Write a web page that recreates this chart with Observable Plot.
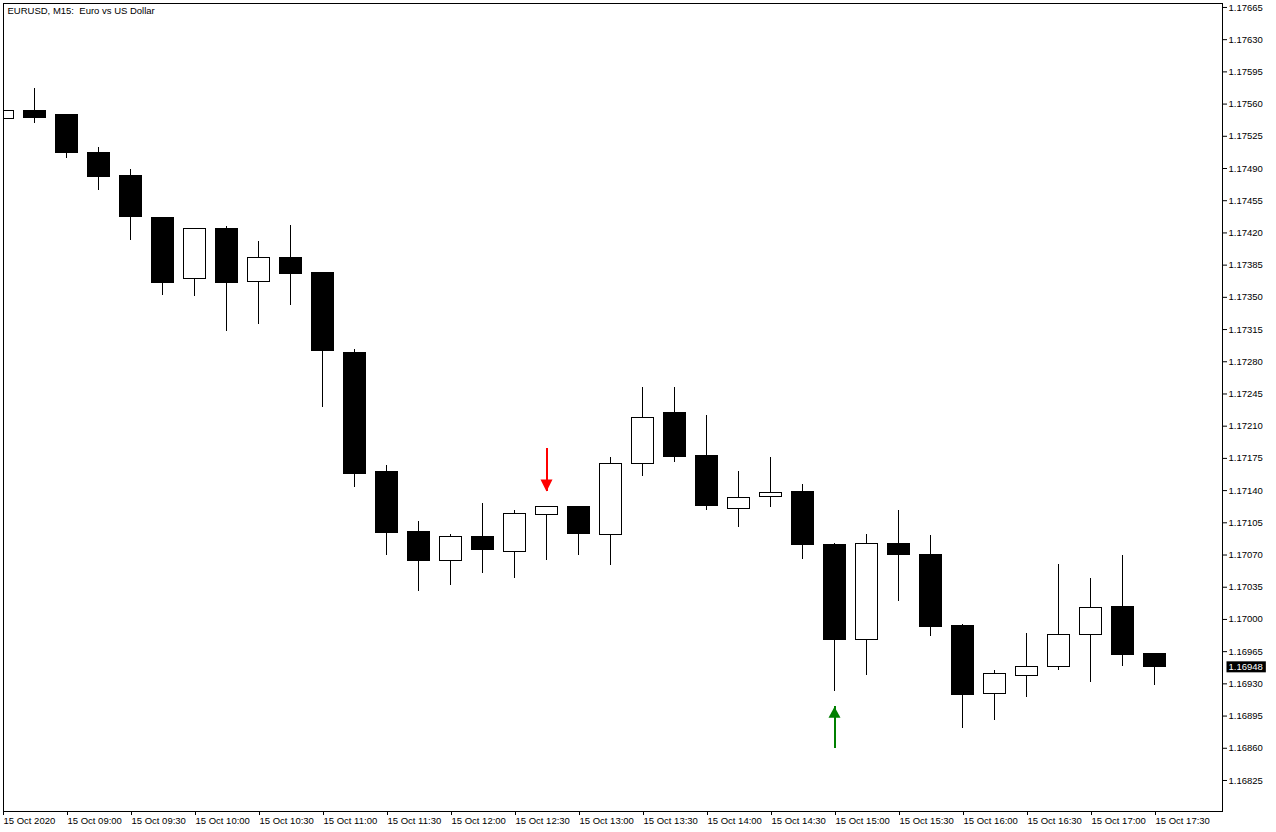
<!DOCTYPE html>
<html>
<head>
<meta charset="utf-8">
<script src="https://cdn.jsdelivr.net/npm/d3@7"></script>
<script src="https://cdn.jsdelivr.net/npm/@observablehq/plot@0.6"></script>
<style>
  html, body { margin: 0; padding: 0; background: #fff; }
  svg { display: block; }
  svg text { white-space: pre; }
</style>
</head>
<body>
<div id="chart"></div>
<script>
// ---- data ----
const title = "EURUSD, M15:  Euro vs US Dollar";
const times = ["08:30","08:45","09:00","09:15","09:30","09:45","10:00","10:15","10:30","10:45",
               "11:00","11:15","11:30","11:45","12:00","12:15","12:30","12:45","13:00","13:15",
               "13:30","13:45","14:00","14:15","14:30","14:45","15:00","15:15","15:30","15:45",
               "16:00","16:15","16:30","16:45","17:00","17:15","17:30"];
const open  = [1.17544,1.17553,1.17548,1.17507,1.17482,1.17436,1.17370,1.17424,1.17367,1.17393,
               1.17376,1.17290,1.17160,1.17095,1.17063,1.17090,1.17073,1.17113,1.17122,1.17092,
               1.17169,1.17224,1.17178,1.17120,1.17133,1.17138,1.17081,1.16978,1.17082,1.17070,
               1.16993,1.16919,1.16939,1.16948,1.16983,1.17014,1.16962];
const high  = [1.17554,1.17577,1.17549,1.17513,1.17489,1.17437,1.17425,1.17427,1.17411,1.17428,
               1.17377,1.17293,1.17167,1.17106,1.17092,1.17126,1.17118,1.17123,1.17123,1.17176,
               1.17252,1.17252,1.17222,1.17161,1.17176,1.17147,1.17083,1.17092,1.17118,1.17091,
               1.16995,1.16945,1.16985,1.17060,1.17044,1.17070,1.16963];
const low   = [1.17543,1.17539,1.17501,1.17466,1.17412,1.17352,1.17351,1.17313,1.17321,1.17341,
               1.17230,1.17143,1.17069,1.17030,1.17037,1.17050,1.17044,1.17064,1.17070,1.17059,
               1.17155,1.17170,1.17118,1.17100,1.17122,1.17065,1.16922,1.16939,1.17019,1.16981,
               1.16882,1.16890,1.16915,1.16945,1.16931,1.16949,1.16928];
const close = [1.17553,1.17545,1.17507,1.17481,1.17437,1.17366,1.17424,1.17366,1.17393,1.17375,
               1.17292,1.17158,1.17094,1.17063,1.17090,1.17075,1.17115,1.17122,1.17093,1.17169,
               1.17219,1.17177,1.17123,1.17132,1.17137,1.17081,1.16978,1.17082,1.17070,1.16992,
               1.16918,1.16941,1.16948,1.16983,1.17012,1.16961,1.16948];

const priceTicks = [1.17665,1.17630,1.17595,1.17560,1.17525,1.17490,1.17455,1.17420,1.17385,
                    1.17350,1.17315,1.17280,1.17245,1.17210,1.17175,1.17140,1.17105,1.17070,
                    1.17035,1.17000,1.16965,1.16930,1.16895,1.16860,1.16825];
const xTickTimes  = ["08:30","09:00","09:30","10:00","10:30","11:00","11:30","12:00","12:30","13:00",
                     "13:30","14:00","14:30","15:00","15:30","16:00","16:30","17:00","17:30"];
const xTickLabels = ["15 Oct 2020","15 Oct 09:00","15 Oct 09:30","15 Oct 10:00","15 Oct 10:30",
                     "15 Oct 11:00","15 Oct 11:30","15 Oct 12:00","15 Oct 12:30","15 Oct 13:00",
                     "15 Oct 13:30","15 Oct 14:00","15 Oct 14:30","15 Oct 15:00","15 Oct 15:30",
                     "15 Oct 16:00","15 Oct 16:30","15 Oct 17:00","15 Oct 17:30"];

const arrowTimes  = ["12:45","15:00"];
const arrowFrom   = [1.17186, 1.16860];
const arrowTo     = [1.17139, 1.16905];
const arrowColors = ["#ff0000", "#008000"];

// ---- derived tables ----
const fmt = d3.format(".5f");
const candles = times.map((t, i) => ({i, t, o: open[i], h: high[i], l: low[i], c: close[i], up: close[i] >= open[i]}));
const xTickIdx = xTickTimes.map(t => times.indexOf(t));
const labelByIdx = new Map(xTickIdx.map((v, k) => [v, xTickLabels[k]]));
const arrows = arrowTimes.map((t, k) => ({i: times.indexOf(t), y1: arrowFrom[k], y2: arrowTo[k], color: arrowColors[k], down: arrowTo[k] < arrowFrom[k]}));
const lastClose = close[close.length - 1];

const headDown = {draw(ctx) { ctx.moveTo(-6, -12); ctx.lineTo(6, -12); ctx.lineTo(0, 0); ctx.closePath(); }};
const headUp   = {draw(ctx) { ctx.moveTo(-6, 11); ctx.lineTo(6, 11); ctx.lineTo(0, 0); ctx.closePath(); }};
const halfBody = 0.34375;

const chart = Plot.plot({
  width: 1276,
  height: 832,
  marginLeft: 3,
  marginRight: 54,
  marginTop: 3,
  marginBottom: 21,
  style: {fontFamily: "'Liberation Sans', Arial, sans-serif", fontSize: "9.5px", background: "#fff", color: "#000", overflow: "visible"},
  x: {type: "linear", domain: [0.03125, 38.125]},
  y: {domain: [1.167913, 1.176693]},
  marks: [
    Plot.ruleX(candles, {x: "i", y1: "l", y2: "h", stroke: "#000", strokeWidth: 1, clip: true, shapeRendering: "crispEdges"}),
    Plot.rect(candles, {x1: d => d.i - halfBody, x2: d => d.i + halfBody, y1: "o", y2: "c",
                        fill: d => d.up ? "#ffffff" : "#000000", stroke: "#000", strokeWidth: 1,
                        clip: true, shapeRendering: "crispEdges"}),
    Plot.ruleX(arrows, {x: "i", y1: "y1", y2: "y2", stroke: "color", strokeWidth: 2, shapeRendering: "crispEdges"}),
    Plot.dot(arrows.filter(d => d.down), {x: "i", y: "y2", symbol: headDown, fill: "color"}),
    Plot.dot(arrows.filter(d => !d.down), {x: "i", y: "y2", symbol: headUp, fill: "color"}),
    Plot.axisY({anchor: "right", ticks: priceTicks, tickFormat: fmt, tickSize: 4, tickPadding: 2, label: null}),
    Plot.axisX({ticks: xTickIdx, tickFormat: d => labelByIdx.get(d), tickSize: 4, tickPadding: 2,
                textAnchor: "start", dx: 1, label: null}),
    Plot.frame({stroke: "#000", shapeRendering: "crispEdges"}),
    Plot.text([title], {frameAnchor: "top-left", dx: 4, dy: 4, lineAnchor: "top", textAnchor: "start", text: d => d, fill: "#000"}),
    Plot.text([lastClose], {y: d => d, frameAnchor: "right", dx: 6, textAnchor: "start", text: d => fmt(d), fill: "#ffffff"})
  ]
});

document.getElementById("chart").appendChild(chart);

// black background box behind the current-price label
const priceText = [...chart.querySelectorAll("text")].filter(t => t.textContent === fmt(lastClose)).pop();
if (priceText) {
  const bb = priceText.getBBox();
  const r = document.createElementNS("http://www.w3.org/2000/svg", "rect");
  r.setAttribute("x", bb.x - 2);
  r.setAttribute("y", bb.y);
  r.setAttribute("width", bb.width + 5);
  r.setAttribute("height", bb.height);
  r.setAttribute("fill", "#000");
  if (priceText.getAttribute("transform")) r.setAttribute("transform", priceText.getAttribute("transform"));
  priceText.parentNode.insertBefore(r, priceText);
}
</script>
</body>
</html>
